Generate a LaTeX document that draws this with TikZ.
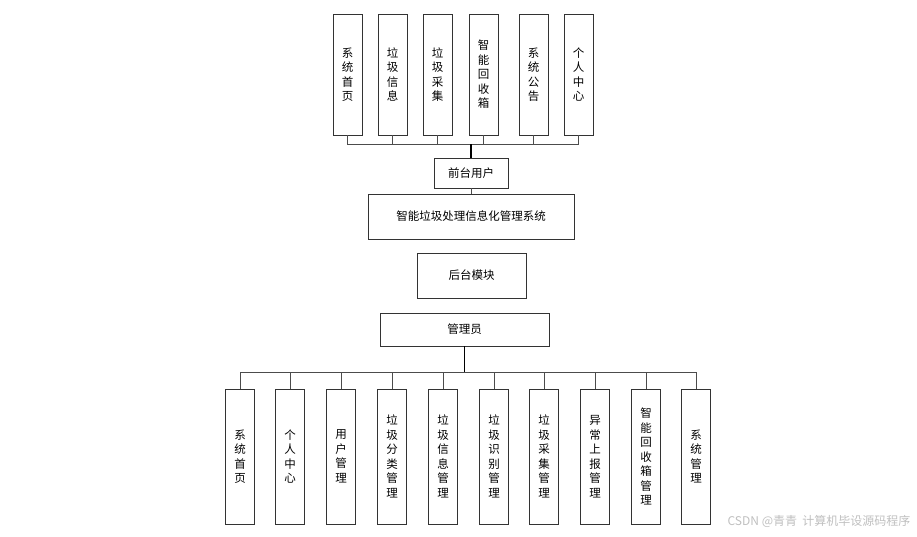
\documentclass[tikz,border=0pt]{standalone}
\usepackage{fontspec}
\setmainfont{Noto Sans CJK SC}
\begin{document}
\begin{tikzpicture}[x=1pt,y=-1pt,
  box/.style={draw=black!80,line width=0.9pt,fill=white,inner sep=0pt,font=\fontsize{11.5}{14.5}\selectfont,align=center},
  conn/.style={draw=black!70,line width=0.9pt},
  trunk/.style={draw=black,line width=1.4pt}]
\useasboundingbox (0,0) rectangle (917,536);
% top
\foreach \n/\x/\t in {t1/347.5/系\\统\\首\\页, t2/392.5/垃\\圾\\信\\息, t3/437.5/垃\\圾\\采\\集, t4/483.5/智\\能\\回\\收\\箱, t5/533.5/系\\统\\公\\告, t6/578.5/个\\人\\中\\心}
  \node[box,minimum width=29pt,minimum height=121pt] (\n) at (\x,74.5) {\t};
\node[box,minimum width=74pt,minimum height=30pt] (qt) at (471,173) {前台用户};
\node[box,minimum width=206pt,minimum height=45pt] (sys) at (471,216.5) {智能垃圾处理信息化管理系统};
\node[box,minimum width=109pt,minimum height=45pt] (ht) at (471.5,275.5) {后台模块};
\node[box,minimum width=169pt,minimum height=33pt] (gl) at (464.5,329.5) {管理员};
\coordinate (tb) at (471,144);
\foreach \n in {t1,t2,t3,t4,t5,t6} \draw[conn] (\n.south) |- (tb);
\draw[trunk] (tb) -- (qt.north);
\draw[conn] (qt.south) -- (sys.north);
% bottom
\foreach \n/\x/\t in {b1/240/系\\统\\首\\页, b2/290/个\\人\\中\\心, b3/341/用\\户\\管\\理, b4/392/垃\\圾\\分\\类\\管\\理, b5/443/垃\\圾\\信\\息\\管\\理, b6/494/垃\\圾\\识\\别\\管\\理, b7/544/垃\\圾\\采\\集\\管\\理, b8/595/异\\常\\上\\报\\管\\理, b9/646/智\\能\\回\\收\\箱\\管\\理, b10/696/系\\统\\管\\理}
  \node[box,minimum width=29pt,minimum height=135pt] (\n) at (\x,456.5) {\t};
\coordinate (bb) at (464.5,372);
\draw[trunk] (gl.south) -- (bb);
\foreach \n in {b1,b2,b3,b4,b5,b6,b7,b8,b9,b10} \draw[conn] (\n.north) |- (bb);
\node[text=black!25,font=\fontsize{12}{14}\selectfont,anchor=east] (wm) at (914,521) {CSDN @青青\ \ 计算机毕设源码程序};
\end{tikzpicture}
\end{document}
